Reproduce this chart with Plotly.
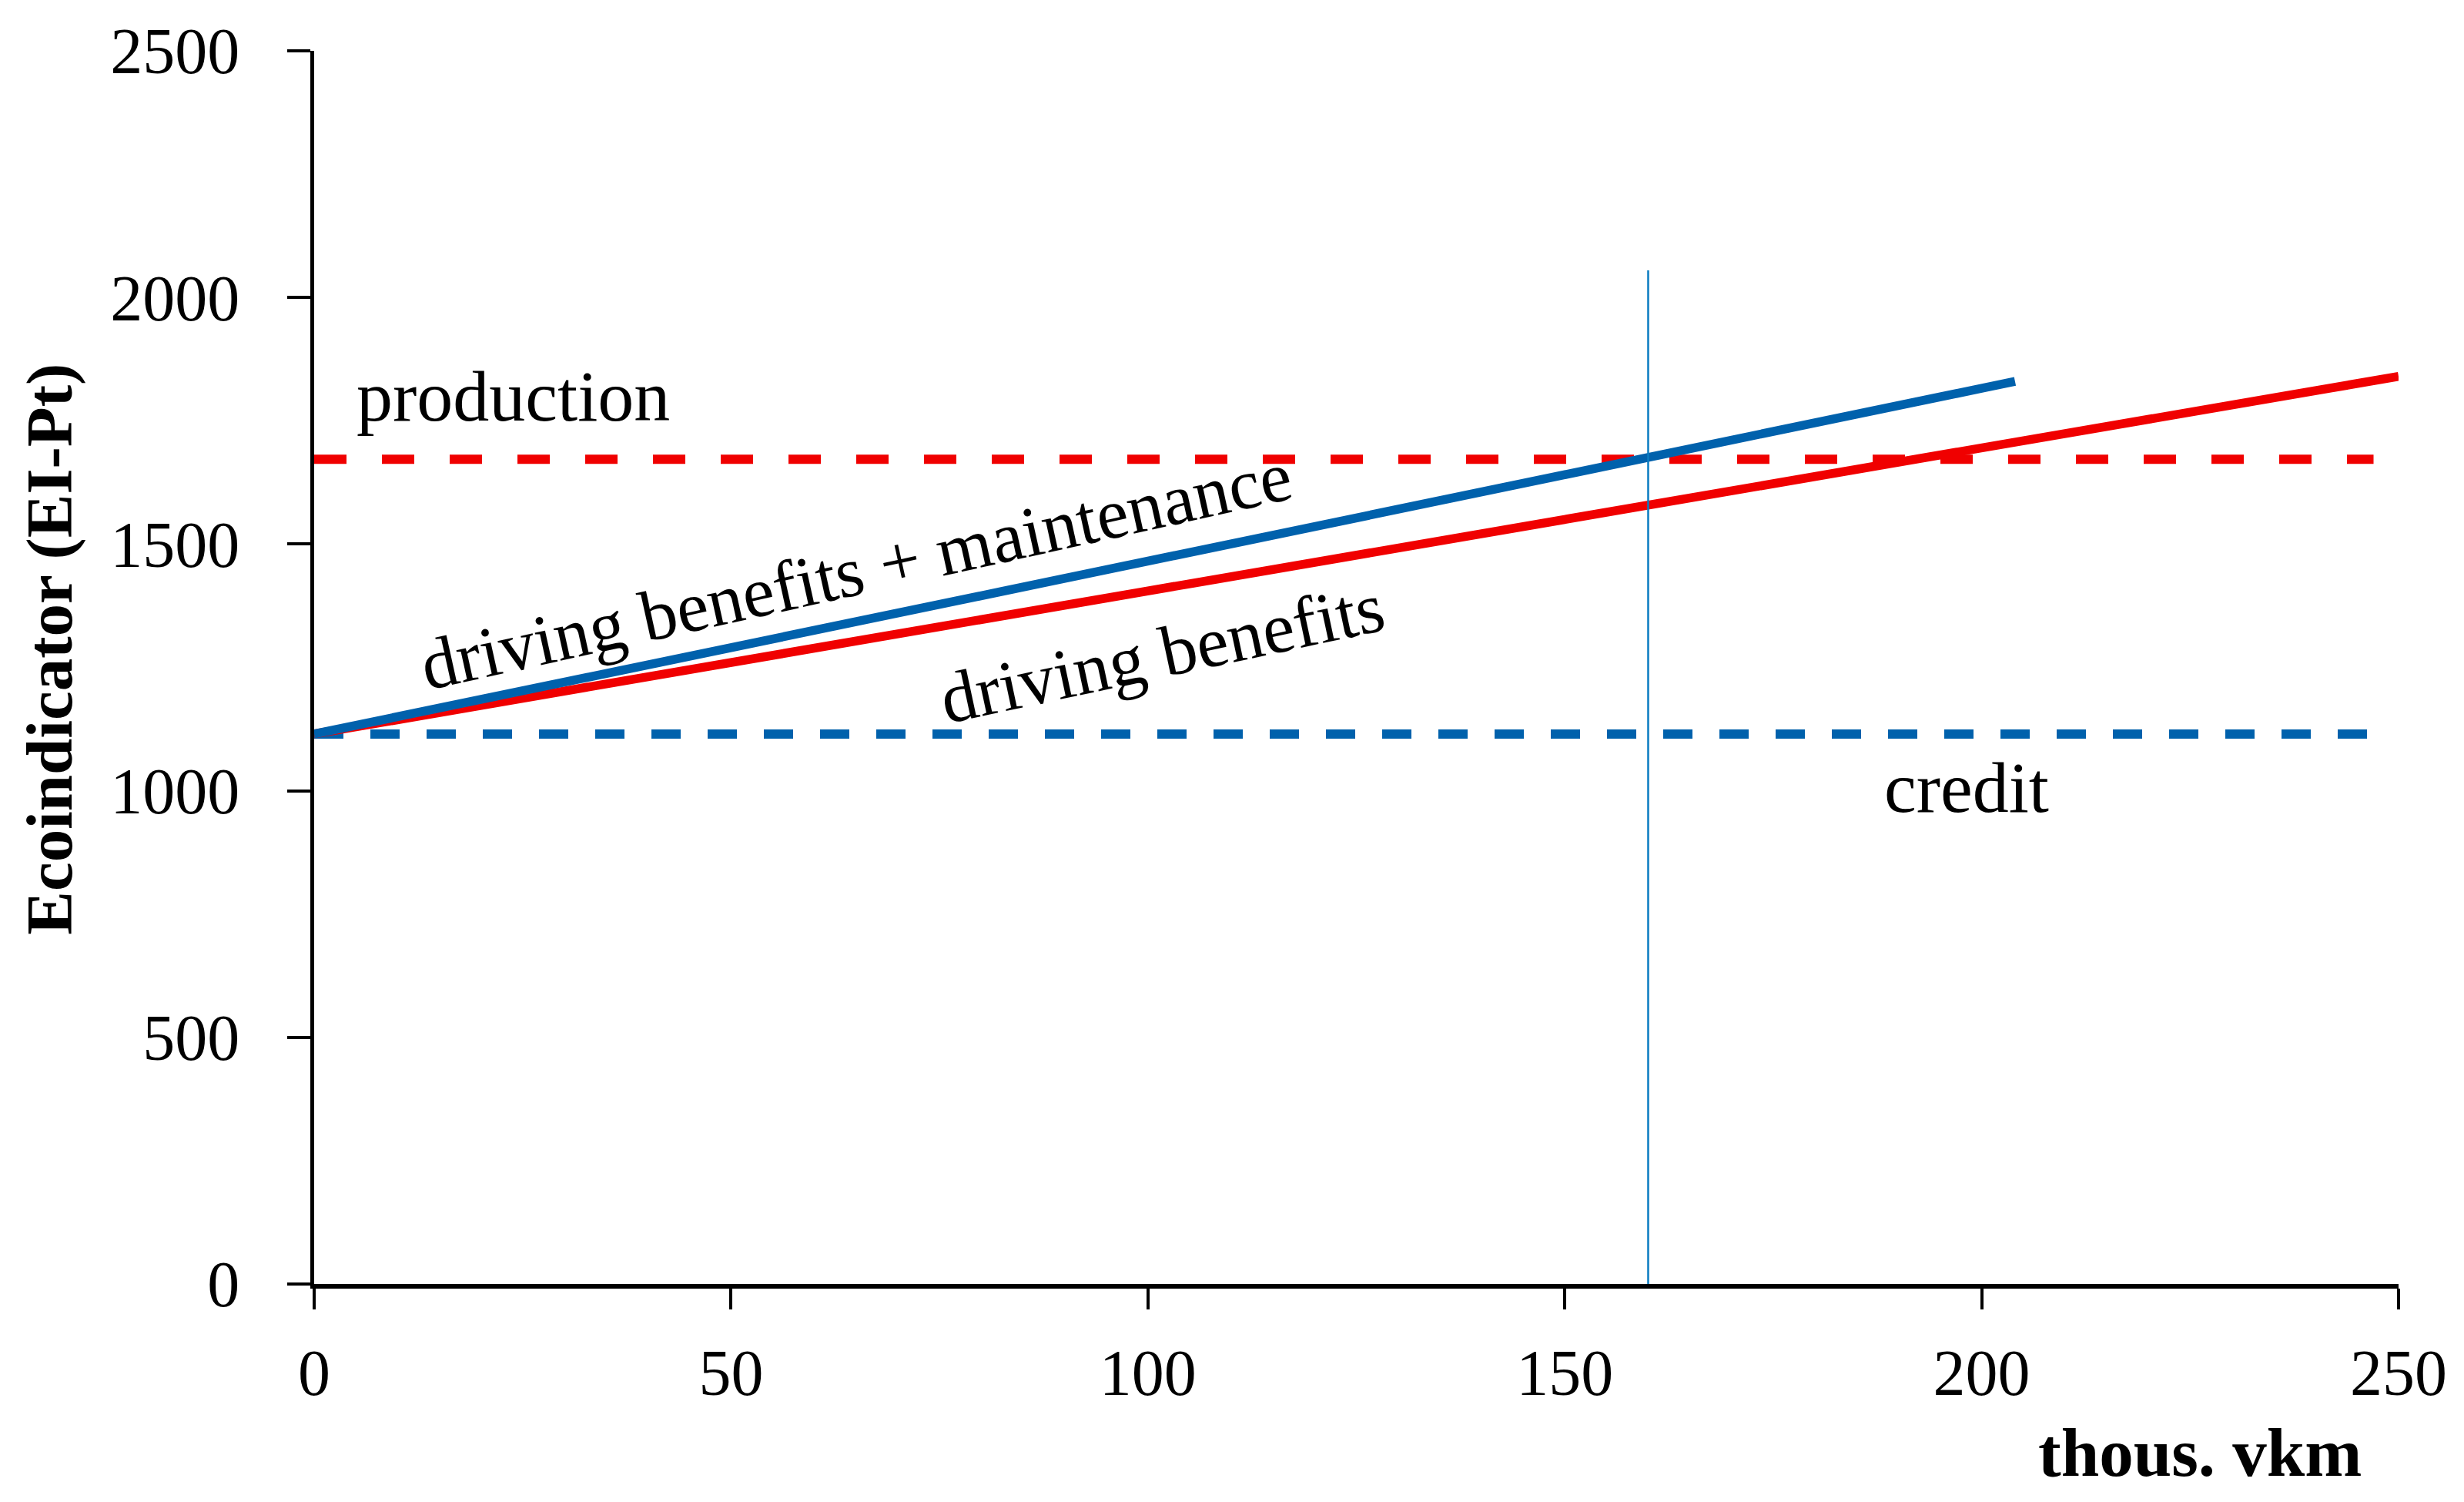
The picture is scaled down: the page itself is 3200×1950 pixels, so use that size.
import plotly.graph_objects as go

# values (thous. vkm vs EI-Pt)
production_x = [0, 247]
production_y = [1672, 1672]
credit_x = [0, 247]
credit_y = [1115, 1115]
benefits_x = [0, 250]
benefits_y = [1115, 1840]
maint_x = [0, 204]
maint_y = [1115, 1830]
breakeven_x = [160, 160]
breakeven_y = [0, 2055]

x_ticks = [0, 50, 100, 150, 200, 250]
y_ticks = [0, 500, 1000, 1500, 2000, 2500]

RED = '#F00000'
BLUE = '#0061AC'
FONT = 'Palatino Linotype, Book Antiqua, Palatino, Liberation Serif, serif'

fig = go.Figure()

fig.add_trace(go.Scatter(x=production_x, y=production_y, mode='lines',
                         line=dict(color=RED, width=12, dash='42px,46px')))
fig.add_trace(go.Scatter(x=credit_x, y=credit_y, mode='lines',
                         line=dict(color=BLUE, width=12, dash='38px,35px')))
fig.add_trace(go.Scatter(x=benefits_x, y=benefits_y, mode='lines',
                         line=dict(color=RED, width=11.5)))
fig.add_trace(go.Scatter(x=maint_x, y=maint_y, mode='lines',
                         line=dict(color=BLUE, width=11.5)))
fig.add_trace(go.Scatter(x=breakeven_x, y=breakeven_y, mode='lines',
                         line=dict(color='#0A7CC1', width=2.5)))

# in-plot labels
fig.add_annotation(x=4.9, y=1801, text='production', showarrow=False,
                   xanchor='left', font=dict(size=94))
fig.add_annotation(x=65, y=1447, text='driving benefits + maintenance',
                   showarrow=False, textangle=-12.5, font=dict(size=93))
fig.add_annotation(x=101.7, y=1279, text='driving benefits',
                   showarrow=False, textangle=-12.1, font=dict(size=93))
fig.add_annotation(x=198.2, y=1007, text='credit', showarrow=False,
                   font=dict(size=94))

# axis titles
fig.add_annotation(xref='paper', yref='paper', x=-0.127, y=0.515,
                   text='<b>Ecoindicator (EI-Pt)</b>', showarrow=False,
                   xanchor='center', yanchor='middle',
                   textangle=-90, font=dict(size=85))
fig.add_annotation(xref='paper', yref='paper', x=0.983, y=-0.137,
                   text='<b>thous. vkm</b>', showarrow=False,
                   xanchor='right', yanchor='middle', font=dict(size=89))

fig.update_layout(
    width=3200, height=1950,
    margin=dict(l=400, r=93, t=47, b=291),
    plot_bgcolor='white', paper_bgcolor='white',
    showlegend=False,
    font=dict(family=FONT, size=84, color='black'),
    xaxis=dict(range=[0, 250], tickvals=x_ticks, showgrid=False, zeroline=False,
               showline=True, linecolor='black', linewidth=6,
               ticks='outside', ticklen=27, tickwidth=4, tickcolor='black',
               ticklabelstandoff=10),
    yaxis=dict(range=[0, 2500], tickvals=y_ticks, showgrid=False, zeroline=False,
               showline=True, linecolor='black', linewidth=5,
               ticks='outside', ticklen=30, tickwidth=4, tickcolor='black',
               ticklabelstandoff=45),
)

fig.write_html('out.html')
